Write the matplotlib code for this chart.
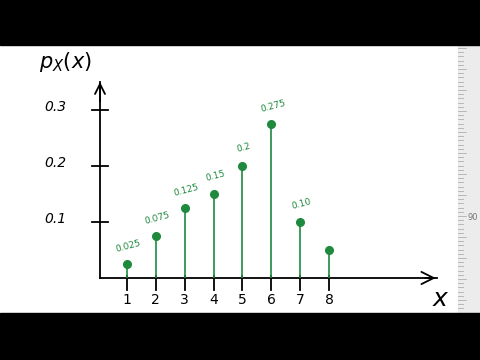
import matplotlib
matplotlib.use("Agg")
import matplotlib.pyplot as plt
from matplotlib.patches import Rectangle
import numpy as np

# ---- data ----
x_vals = [1, 2, 3, 4, 5, 6, 7, 8]
p_vals = [0.025, 0.075, 0.125, 0.15, 0.2, 0.275, 0.10, 0.05]
point_labels = ["0.025", "0.075", "0.125", "0.15", "0.2", "0.275", "0.10", ""]
y_ticks = [0.1, 0.2, 0.3]
y_tick_labels = ["0.1", "0.2", "0.3"]
x_tick_labels = ["1", "2", "3", "4", "5", "6", "7", "8"]

W, H = 480, 360
fig = plt.figure(figsize=(4.8, 3.6), dpi=100)
ax = fig.add_axes([0, 0, 1, 1])
ax.set_axis_off()

# scale: x=1 at px 127, 28.86 px per unit; y=0 at py 278, 560 px per unit
sx, x1px = 28.86, 127.0
sy, y0px = 560.0, 278.0
ax.set_xlim(1 - x1px / sx, 1 + (W - x1px) / sx)
ax.set_ylim(-(H - y0px) / sy, y0px / sy)

green = "#1f8a3e"

# axes (hand drawn style)
x_origin = 1 - 27 / sx
x_end = 1 + 310 / sx
y_top = (y0px - 82) / sy
ax.plot([x_origin, x_end], [0, 0], color="black", lw=1.3)
ax.plot([x_origin, x_origin], [0, y_top], color="black", lw=1.3)
ax.annotate("", xy=(x_end + 0.05, 0), xytext=(x_end - 0.5, 0),
            arrowprops=dict(arrowstyle="->", color="black", lw=1.3, mutation_scale=22))
ax.annotate("", xy=(x_origin, y_top + 0.005), xytext=(x_origin, y_top - 0.04),
            arrowprops=dict(arrowstyle="->", color="black", lw=1.3, mutation_scale=18))

# y ticks
for yt, lab in zip(y_ticks, y_tick_labels):
    ax.plot([x_origin - 0.28, x_origin + 0.28], [yt, yt], color="black", lw=1.3)
    ax.text(x_origin - 1.55, yt + 0.005, lab, fontsize=10, style="italic",
            ha="center", va="center", color="black")

# x ticks
for xv, lab in zip(x_vals, x_tick_labels):
    ax.plot([xv, xv], [0.004, -0.022], color="black", lw=1.3)
    ax.text(xv, -0.04, lab, fontsize=10, ha="center", va="center", color="black")

# stems
markerline, stemlines, baseline = ax.stem(x_vals, p_vals, basefmt=" ")
plt.setp(stemlines, color=green, lw=1.2)
plt.setp(markerline, color=green, markersize=5.5)

for xv, pv, lab in zip(x_vals, p_vals, point_labels):
    if lab:
        ax.text(xv + 0.05, pv + 0.032, lab, fontsize=6.5, color=green,
                ha="center", va="center", rotation=15)

# axis labels
ax.text(x_end + 0.1, -0.038, "x", fontsize=18, style="italic",
        ha="center", va="center", color="black")
ax.text(1 - 62 / sx, (y0px - 62) / sy, r"$p_X(x)$", fontsize=15,
        ha="center", va="center", color="black")

# screen decorations: black bars and ruler
fig.add_artist(Rectangle((0, 1 - 45 / H), 1, 45 / H, transform=fig.transFigure,
                         color="black", zorder=5))
fig.add_artist(Rectangle((0, 0), 1, (H - 313) / H, transform=fig.transFigure,
                         color="black", zorder=5))
fig.add_artist(Rectangle((458 / W, (H - 313) / H), 22 / W, 268 / H,
                         transform=fig.transFigure, color="#ececec", zorder=4))
for py in np.arange(48, 313, 4.2):
    L = 8 if int(round((py - 48) / 4.2)) % 5 == 0 else 5
    fig.add_artist(plt.Line2D([458 / W, (458 + L) / W], [1 - py / H, 1 - py / H],
                              transform=fig.transFigure, color="#b0b0b0", lw=0.6, zorder=4))
fig.text(473 / W, 1 - 218 / H, "90", fontsize=6, color="#777777",
         ha="center", va="center", zorder=6)

fig.savefig("out.png", dpi=100, facecolor="white")
